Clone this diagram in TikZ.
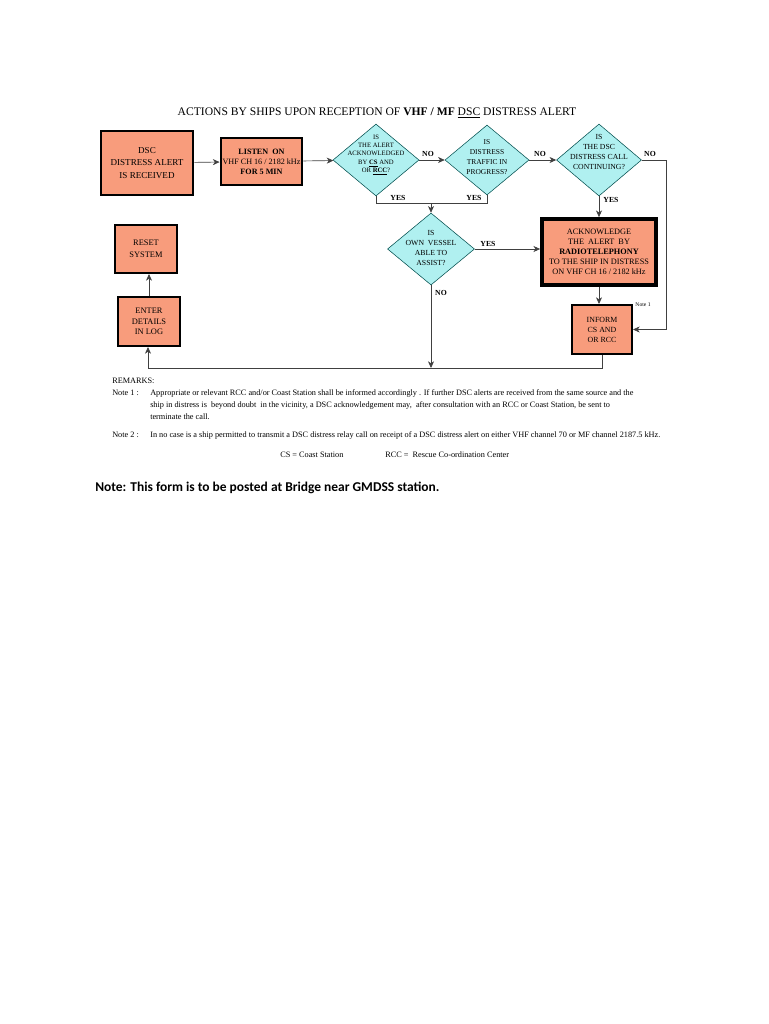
\documentclass[tikz,border=0pt]{standalone}
\usepackage{fontspec}
\setmainfont{Liberation Serif}
\newfontfamily\notefont{Carlito}
\usetikzlibrary{calc, shapes, arrows, arrows.meta}
\definecolor{salmon}{RGB}{248,156,124}
\definecolor{aqua}{RGB}{176,240,240}

\begin{document}
\begin{tikzpicture}[x=0.75pt, y=-0.75pt,
box/.style = {% action boxes
    draw, fill=salmon, line width=1.5pt, align=center, inner sep=0pt,
    font=\fontsize{6.1}{7.5}\selectfont,
            },
dia/.style = {% decision diamonds
    diamond, draw=teal!60!black, fill=aqua, line width=0.4pt, inner sep=0pt,
            },
dt/.style = {align=center, inner sep=0pt, font=\fontsize{5.8}{7.5}\selectfont},
yn/.style = {inner sep=0pt, font=\bfseries\fontsize{5.8}{6}\selectfont},
rm/.style = {anchor=west, inner sep=0pt, font=\fontsize{6.2}{9}\selectfont},
ln/.style = {draw=black!75, line width=0.5pt},
ar/.style = {ln, -{Stealth[length=5pt, width=4.5pt, inset=1.5pt]}},
                    ]
\useasboundingbox (0,0) rectangle (768,1024);
% title
\node[inner sep=0pt, font=\fontsize{8.7}{10}\selectfont] (title) at (377,113)
    {ACTIONS BY SHIPS UPON RECEPTION OF \textbf{VHF / MF} \underline{DSC} DISTRESS ALERT};
% boxes
\node[box, line width=2.2pt, minimum width=69pt, minimum height=48pt,
      font=\fontsize{6.8}{9.6}\selectfont] (rcv) at (147,163)
    {DSC\\DISTRESS ALERT\\IS RECEIVED};
\node[box, line width=2.2pt, minimum width=60.75pt, minimum height=35.25pt] (listen) at (261.5,161.5)
    {\textbf{LISTEN\ \ ON}\\VHF CH 16 / 2182 kHz\\\textbf{FOR 5 MIN}};
\node[box, line width=2.8pt, minimum width=85.5pt, minimum height=49.5pt,
      font=\fontsize{6.2}{7.5}\selectfont] (ack) at (599,252)
    {ACKNOWLEDGE\\THE\ \ ALERT\ \ BY\\\textbf{RADIOTELEPHONY}\\TO THE SHIP IN DISTRESS\\ON VHF CH 16 / 2182 kHz};
\node[box, minimum width=45pt, minimum height=36.75pt,
      font=\fontsize{5.9}{7.5}\selectfont] (inform) at (602,329.5)
    {INFORM\\CS AND\\OR RCC};
\node[box, minimum width=46.5pt, minimum height=36pt,
      font=\fontsize{6.3}{9}\selectfont] (reset) at (146,249)
    {RESET\\SYSTEM};
\node[box, minimum width=46.5pt, minimum height=36.75pt,
      font=\fontsize{6.3}{7.8}\selectfont] (enter) at (149,321.5)
    {ENTER\\DETAILS\\IN LOG};
% decisions
\node[dia, minimum width=64.5pt, minimum height=54pt] (acked) at (376,160) {};
\node[dt, font=\fontsize{5}{6.2}\selectfont] (ackedt) at ($(acked)+(0,-5)$)
    {IS\\THE ALERT\\ACKNOWLEDGED\\BY \underline{\textbf{CS}} AND\\OR \underline{\textbf{RCC}}?};
\node[dia, minimum width=63pt, minimum height=52.5pt] (traffic) at (487,160) {};
\node[dt, font=\fontsize{5.6}{7.5}\selectfont] (traffict) at ($(traffic)+(0,-3)$)
    {IS\\DISTRESS\\TRAFFIC IN\\PROGRESS?};
\node[dia, minimum width=63.75pt, minimum height=54pt] (cont) at (599,160) {};
\node[dt] (contt) at ($(cont)+(0,-8)$) {IS\\THE DSC\\DISTRESS CALL\\CONTINUING?};
\node[dia, minimum width=65.25pt, minimum height=54pt] (assist) at (431,249) {};
\node[dt] (assistt) at ($(assist)+(0,-1)$) {IS\\OWN\ \ VESSEL\\ABLE TO\\ASSIST?};
% connectors
\draw[ar] (rcv) -- (listen);
\draw[ar] (listen) -- (acked);
\draw[ar] (acked) -- (traffic);
\draw[ar] (traffic) -- (cont);
\draw[ar] (cont.east) -- ++(25,0) |- (inform.east);
\draw[ar] (cont.south) -- (cont.south |- ack.north);
\coordinate (yes) at ($(acked.south)+(0,7)$);
\draw[ln] (acked.south) -- (yes) -- (yes -| traffic.south) -- (traffic.south);
\draw[ar] (yes -| assist.north) -- (assist.north);
\draw[ar] (assist.east) -- (assist.east -| ack.west);
\draw[ar] (ack.south) -- (ack.south |- inform.north);
\coordinate (bot) at (148,368);
\draw[ar] (assist.south) -- (assist.south |- bot);
\draw[ar] (inform.south) |- (bot) -- (bot |- enter.south);
\draw[ar] (enter.north) -- (enter.north |- reset.south);
% yes / no labels
\foreach \p/\t [count=\i] in {(428,154)/NO, (540,154)/NO, (650,154)/NO,
                              (398,198)/YES, (474,198)/YES, (611,200)/YES,
                              (488,244)/YES, (441,293)/NO}
    {\node[yn] (lab\i) at \p {\t};}
\node[inner sep=0pt, font=\fontsize{4.2}{5}\selectfont] (note1) at (643,305) {Note 1};
% remarks
\node[rm] (rmk) at (112,381) {REMARKS:};
\node[rm] (n1) at (112,393) {Note 1 :};
\node[rm, anchor=north west, align=left] (n1t) at (150,389.2)
    {Appropriate or relevant RCC and/or Coast Station shall be informed accordingly . If further DSC alerts are received from the same source and the\\
     ship in distress is\ \ beyond doubt\ \ in the vicinity, a DSC acknowledgement may,\ \ after consultation with an RCC or Coast Station, be sent to\\
     terminate the call.};
\node[rm] (n2) at (112,435) {Note 2 :};
\node[rm] (n2t) at (150,435)
    {In no case is a ship permitted to transmit a DSC distress relay call on receipt of a DSC distress alert on either VHF channel 70 or MF channel 2187.5 kHz.};
\node[rm] (cs) at (280,455) {CS = Coast Station};
\node[rm] (rcc) at (385,455) {RCC =\ \ Rescue Co-ordination Center};
% footnote
\node[anchor=west, inner sep=0pt, font=\notefont\bfseries\fontsize{10.1}{12}\selectfont] (post) at (95,488)
    {Note: This form is to be posted at Bridge near GMDSS station.};
\end{tikzpicture}
\end{document}
